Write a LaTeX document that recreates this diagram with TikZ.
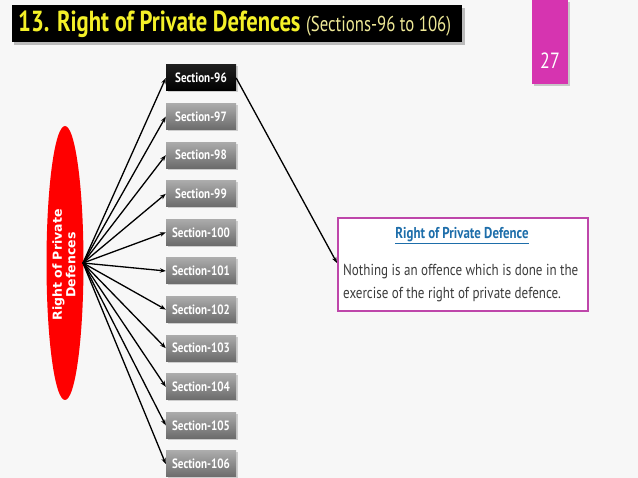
\documentclass[tikz,border=0pt]{standalone}
\usepackage{fontspec}
\setmainfont{PT Sans}
\newfontfamily\narrowfont[FakeStretch=0.82]{PT Sans}
\newfontfamily\titlefont[FakeStretch=0.78]{PT Sans}
\newfontfamily\verdfont{DejaVu Sans}
\usetikzlibrary{shadows,arrows.meta,shapes.geometric}
\definecolor{bgcol}{RGB}{247,247,247}
\definecolor{magentabar}{RGB}{214,52,176}
\definecolor{ttlyellow}{RGB}{244,240,40}
\definecolor{subyellow}{RGB}{238,232,150}
\definecolor{defblue}{RGB}{30,110,170}
\definecolor{txtgray}{RGB}{60,60,60}
\definecolor{boxframe}{RGB}{190,70,170}
\tikzset{
  secbox/.style={rectangle, minimum width=70pt, minimum height=26pt, inner sep=0pt,
    top color=black!33, bottom color=black!58, draw=none,
    drop shadow={shadow xshift=1.5pt, shadow yshift=-1.5pt, opacity=0.35},
    text=white, font=\narrowfont\bfseries\fontsize{13.5}{14}\selectfont},
  secblack/.style={secbox, top color=black!88, bottom color=black},
  conn/.style={-{Stealth[length=6pt,width=4.5pt]}, line width=1.3pt, black}
}
\begin{document}
\begin{tikzpicture}[x=1pt,y=-1pt]
\useasboundingbox (0,0) rectangle (638,478);
\fill[bgcol] (0,0) rectangle (638,478);
% title bar
\fill[black!50, opacity=0.5] (14,8) rectangle (465,45);
\node[fill=black, minimum width=450pt, minimum height=37pt, inner sep=0pt, anchor=north west] (title) at (12,5) {};
\node[anchor=west, inner sep=0pt] (titletxt) at (18,24)
  {\titlefont\bfseries\fontsize{29}{30}\selectfont\color{ttlyellow}13. Right of Private Defences\ {\fontsize{21.5}{22}\selectfont\mdseries\color{subyellow}(Sections-96 to 106)}};
% page number
\fill[black!40, opacity=0.5] (534,2) rectangle (570,86);
\node[fill=magentabar, minimum width=36pt, minimum height=84pt, inner sep=0pt, anchor=north west] (pgbox) at (532,0) {};
\node[text=white, font=\narrowfont\fontsize{22}{22}\selectfont] (pgnum) at (550,61) {27};
% ellipse
\node[ellipse, fill=red, minimum width=37pt, minimum height=274pt, inner sep=0pt] (hubell) at (65,263) {};
\node[rotate=90, text=white, align=center, font=\verdfont\bfseries\fontsize{12.5}{13.5}\selectfont] (hubtxt) at (64,265) {Right of Private\\Defences};
\coordinate (hub) at (83,263);
% section boxes
\foreach \n [count=\i from 0] in {96,97,...,106}{
  \ifnum\n=96
    \node[secblack] (s\n) at (201,{78+38.6*\i}) {Section-\n};
  \else
    \node[secbox] (s\n) at (201,{78+38.6*\i}) {Section-\n};
  \fi
  \draw[conn] (hub) -- (s\n.west);
}
% definition box
\node[draw=boxframe, line width=1.6pt, fill=white, minimum width=250pt, minimum height=93pt, inner sep=0pt, anchor=north west] (defbox) at (337,217) {};
\node[text=defblue, font=\narrowfont\bfseries\fontsize{15.7}{16}\selectfont] (deftitle) at (462,236) {\underline{Right of Private Defence}};
\node[anchor=north west, text=txtgray, align=left, inner sep=0pt, font=\narrowfont\fontsize{15.9}{23}\selectfont] (deftext) at (343,264)
  {Nothing is an offence which is done in the\\exercise of the right of private defence.};
\draw[conn] (s96.east) -- (defbox.west |- 0,263);
\end{tikzpicture}
\end{document}
